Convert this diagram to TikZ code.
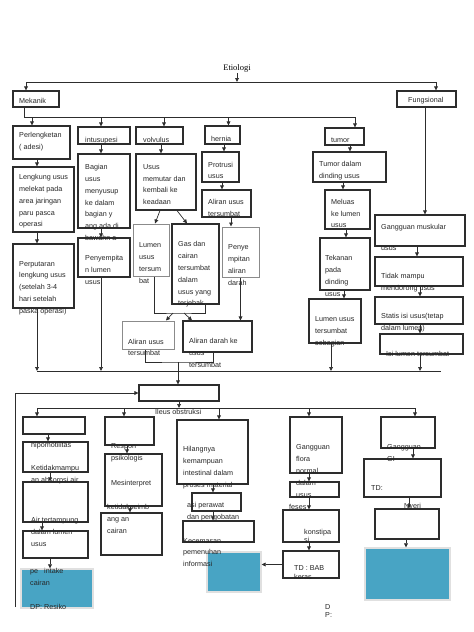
\documentclass[tikz,border=0pt]{standalone}
\usepackage{fontspec}
\setmainfont{Liberation Sans}
\newfontfamily\etiofont{Liberation Serif}
\usetikzlibrary{arrows.meta,fit,positioning}
\definecolor{boxblue}{RGB}{72,164,196}
\definecolor{linegray}{RGB}{45,45,45}
\tikzset{
  box/.style   ={rectangle, draw=linegray, line width=1.1pt, inner sep=0pt},
  lbox/.style  ={rectangle, draw=linegray!55, line width=1pt, inner sep=0pt},
  bluebox/.style={rectangle, draw=black!12, line width=1.4pt, fill=boxblue, inner sep=0pt},
  txt/.style   ={anchor=west, align=left, inner sep=0pt,
                 font=\fontsize{7.2}{11.8}\selectfont, text=black!85},
  flow/.style  ={-{Triangle[length=4pt,width=3.8pt]}, line width=0.7pt, draw=linegray},
  wire/.style  ={-, line width=0.7pt, draw=linegray}
}

\begin{document}
\begin{tikzpicture}[x=1pt,y=-1pt]
\useasboundingbox (0,0) rectangle (474,632);

% Etiologi
\node[font=\etiofont\fontsize{8.5}{10}\selectfont, inner sep=1pt] (etio) at (237,68) {Etiologi};

% Boxes -- etiologi
\node[box, fit={(13,91)(59,107)}] (mek) {};
\node[box, fit={(397,91)(456,107)}] (fung) {};
\node[box, fit={(13,126)(70,159)}] (perl) {};
\node[box, fit={(78,127)(130,144)}] (intu) {};
\node[box, fit={(136,127)(183,144)}] (volv) {};
\node[box, fit={(205,126)(240,144)}] (hern) {};
\node[box, fit={(325,128)(364,145)}] (tumor) {};
\node[box, fit={(13,167)(74,232)}] (leng) {};
\node[box, fit={(78,154)(130,228)}] (bag) {};
\node[box, fit={(136,154)(196,210)}] (mem) {};
\node[box, fit={(202,152)(239,182)}] (prot) {};
\node[box, fit={(202,190)(251,217)}] (alir1) {};
\node[box, fit={(313,152)(386,182)}] (tumd) {};
\node[box, fit={(325,190)(370,229)}] (mel) {};
\node[box, fit={(375,215)(465,246)}] (gmus) {};
\node[box, fit={(375,257)(463,286)}] (tidak) {};
\node[box, fit={(375,297)(463,324)}] (stat) {};
\node[box, fit={(380,334)(463,354)}] (isi) {};
\node[box, fit={(13,244)(74,308)}] (perp) {};
\node[box, fit={(78,238)(130,277)}] (peny) {};
\node[lbox, fit={(133,224)(169,276)}] (lum) {};
\node[box, fit={(172,224)(219,304)}] (gas) {};
\node[lbox, fit={(222,227)(259,277)}] (pad) {};
\node[box, fit={(320,238)(370,290)}] (tek) {};
\node[box, fit={(309,299)(361,343)}] (lsb) {};
\node[lbox, fit={(122,321)(174,349)}] (alir2) {};
\node[box, fit={(183,321)(252,352)}] (aldr) {};
\node[box, fit={(139,385)(219,401)}] (ileus) {};

% Boxes -- ileus obstruksi
\node[box, fit={(23,417)(85,434)}] (hipo) {};
\node[box, fit={(23,442)(88,472)}] (ketid) {};
\node[box, fit={(23,482)(88,522)}] (airt) {};
\node[box, fit={(23,531)(88,558)}] (intk) {};
\node[bluebox, fit={(21,569)(93,608)}] (dpres) {};
\node[box, fit={(105,417)(154,445)}] (resp) {};
\node[box, fit={(105,454)(162,506)}] (mesin) {};
\node[box, fit={(101,513)(162,555)}] (ketsb) {};
\node[box, fit={(177,420)(248,484)}] (hilang) {};
\node[box, fit={(192,493)(241,511)}] (asip) {};
\node[box, fit={(183,521)(254,542)}] (kecem) {};
\node[bluebox, fit={(207,552)(261,592)}] (dpkec) {};
\node[box, fit={(290,417)(342,473)}] (flora) {};
\node[box, fit={(290,482)(339,497)}] (feses) {};
\node[box, fit={(283,510)(339,542)}] (konst) {};
\node[box, fit={(283,551)(339,578)}] (bab) {};
\node[box, fit={(381,417)(435,448)}] (ggi) {};
\node[box, fit={(364,459)(441,497)}] (tdgi) {};
\node[box, fit={(375,509)(439,539)}] (nyeri) {};
\node[bluebox, fit={(365,548)(450,600)}] (dpnye) {};

% Texts
\node[txt] (t-mek) at (19,101) {Mekanik};
\node[txt] (t-fung) at (408,101) {Fungsional};
\node[txt] (t-perl) at (19,142) {Perlengketan\\( adesi)};
\node[txt] (t-intu) at (85,141) {intusupesi};
\node[txt] (t-volv) at (143,140) {volvulus};
\node[txt] (t-hern) at (211,139) {hernia};
\node[txt] (t-tumor) at (331,140) {tumor};
\node[txt] (t-leng) at (19,201.5) {Lengkung usus\\melekat pada\\area jaringan\\paru pasca\\operasi};
\node[txt] (t-bag) at (85,202.5) {Bagian\\usus\\menyusup\\ke dalam\\bagian y\\ang ada di\\bawahn a};
\node[txt] (t-mem) at (143,184.5) {Usus\\memutar dan\\kembali ke\\keadaan};
\node[txt] (t-prot) at (208,170.5) {Protrusi\\usus};
\node[txt] (t-alir1) at (208,208) {Aliran usus\\tersumbat};
\node[txt] (t-tumd) at (319,171) {Tumor dalam\\dinding usus};
\node[txt] (t-mel) at (331,213.5) {Meluas\\ke lumen\\usus};
\node[txt] (t-gmus) at (381,237.5) {Gangguan muskular\\[9pt]usus};
\node[txt] (t-tidak) at (381,283) {Tidak mampu\\mendorong usus};
\node[txt] (t-stat) at (381,323) {Statis isi usus(tetap\\dalam lumen)};
\node[txt] (t-isi) at (386,354) {Isi lumen tersumbat};
\node[txt] (t-perp) at (19,288) {Perputaran\\lengkung usus\\(setelah 3-4\\hari setelah\\paska operasi)};
\node[txt] (t-peny) at (85,270) {Penyempita\\n lumen\\usus};
\node[txt] (t-lum) at (139,263) {Lumen\\usus\\tersum\\bat};
\node[txt] (t-gas) at (178,274.5) {Gas dan\\cairan\\tersumbat\\dalam\\usus yang\\terjebak};
\node[txt] (t-pad) at (228,265) {Penye\\mpitan\\aliran\\darah};
\node[txt] (t-tek) at (325,276) {Tekanan\\pada\\dinding\\usus};
\node[txt] (t-lsb) at (315,331.5) {Lumen usus\\tersumbat\\sebagian};
\node[txt] (t-alir2) at (128,347.5) {Aliran usus\\tersumbat};
\node[txt] (t-aldr) at (189,353) {Aliran darah ke\\usus\\tersumbat};
\node[txt] (t-ileus) at (155,412) {Ileus obstruksi};
\node[txt] (t-ketid) at (31,463) {hipomotilitas\\[12pt]Ketidakmampu\\an absorpsi air};
\node[txt] (t-airt) at (31,532) {Air tertampung\\dalam lumen\\usus};
\node[txt] (t-dpres) at (30,589) {pe\ \ \ intake\\cairan\\[12pt]DP: Resiko};
\node[txt] (t-resp) at (111,453) {Respon\\psikologis};
\node[txt] (t-mesin) at (111,484) {Mesinterpret};
\node[txt] (t-ketsb) at (107,519) {ketidakseimb\\ang an\\cairan};
\node[txt] (t-hilang) at (183,467.5) {Hilangnya\\kemampuan\\intestinal dalam\\proses material};
\node[txt] (t-asip) at (187,511.5) {asi perawat\\dan pengobatan};
\node[txt] (t-kecem) at (183,552.5) {Kecemasan\\pemenuhan\\informasi};
\node[txt] (t-flora) at (296,471) {Gangguan\\flora\\normal\\dalam\\usus};
\node[txt] (t-feses) at (289,507) {feses};
\node[txt] (t-konst) at (304,536) {konstipa\\[-3pt]si};
\node[txt] (t-bab) at (294,572.5) {TD : BAB\\[-3pt]keras};
\node[txt] (t-ggi) at (387,453) {Gangguan\\GI};
\node[txt] (t-tdgi) at (371,488) {TD:};
\node[txt] (t-nyeri) at (404,507) {Nyeri};
\node[txt] (t-dp) at (325,611) {D\\[-3pt]P:};

% Connectors -- top
\coordinate (jtop) at (237,82);
\draw[flow] (etio) -- (jtop);
\draw[flow] (jtop) -| ([xshift=-10pt]mek.north);
\draw[flow] (jtop) -| ([xshift=9.5pt]fung.north);

\coordinate (jmek) at (355,117);
\draw[flow] ([xshift=-12pt]mek.south) |- (jmek) -- (jmek |- tumor.north);
\foreach \n/\dx in {perl/-9.5,intu/-3,volv/4.5,hern/6}
  \draw[flow] ([xshift=\dx pt]\n.north |- jmek) -- ([xshift=\dx pt]\n.north);

\foreach \src/\dst/\dx in {perl/leng/-4.5, leng/perp/-6.5, intu/bag/-3, bag/peny/-3,
    volv/mem/1.5, hern/prot/1.5, prot/alir1/1.5, alir1/pad/4.5, pad/aldr/0,
    tumor/tumd/5.5, tumd/mel/-6.5, mel/tek/-1.5, tek/lsb/-1, fung/gmus/-1.5,
    gmus/tidak/-3, tidak/stat/1, stat/isi/1, hipo/ketid/-6, ketid/airt/-5.5,
    airt/intk/-13.5, intk/dpres/-5.5, resp/mesin/-2.5, mesin/ketsb/-3.5,
    hilang/asip/0.5, asip/kecem/-3.5, flora/feses/-7, feses/konst/-5.5,
    konst/bab/-2, ggi/tdgi/5, tdgi/nyeri/6.5, nyeri/dpnye/-1}
  \draw[flow] ([xshift=\dx pt]\src.south) -- ([xshift=\dx pt]\src.south |- \dst.north);

% volvulus branches
\draw[flow] ([xshift=-6pt]mem.south) -- ([xshift=4pt]lum.north);
\draw[flow] ([xshift=11pt]mem.south) -- ([xshift=-8.5pt]gas.north);
\coordinate (jlg) at (178,313);
\draw[wire] ([xshift=3pt]lum.south) |- (jlg) -| ([xshift=9.5pt]gas.south);
\draw[flow] ([xshift=-5pt]jlg) -- ([xshift=18pt]alir2.north);
\draw[flow] ([xshift=6pt]jlg) -- ([xshift=-25.5pt]aldr.north);
\coordinate (jal) at (178,362);
\draw[wire] ([xshift=-3pt]alir2.south) |- (jal) -| ([xshift=-4.5pt]aldr.south);
\draw[flow] (jal) -- (jal |- ileus.north);

% collecting line
\coordinate (jbl) at (37,371);
\coordinate (jbr) at (441,371);
\draw[wire] (jbl) -- (jbr);
\foreach \n/\dx in {perp/-6.5,peny/-3,lsb/-4,isi/-1.5}
  \draw[flow] ([xshift=\dx pt]\n.south) -- ([xshift=\dx pt]\n.south |- jbl);

% ileus obstruksi
\coordinate (jloop) at (15,607);
\draw[flow] (jloop) |- (ileus.west);
\coordinate (jil) at (37,408);
\coordinate (jir) at (415,408);
\draw[flow] (ileus.south) -- (ileus.south |- jil);
\draw[wire] (jil) -- (jir);
\foreach \n/\dx in {hipo/-17,resp/-5.5,hilang/6.5,flora/-7,ggi/7}
  \draw[flow] ([xshift=\dx pt]\n.north |- jil) -- ([xshift=\dx pt]\n.north);
\draw[flow] (bab.west) -- (bab.west -| dpkec.east);
\end{tikzpicture}
\end{document}
